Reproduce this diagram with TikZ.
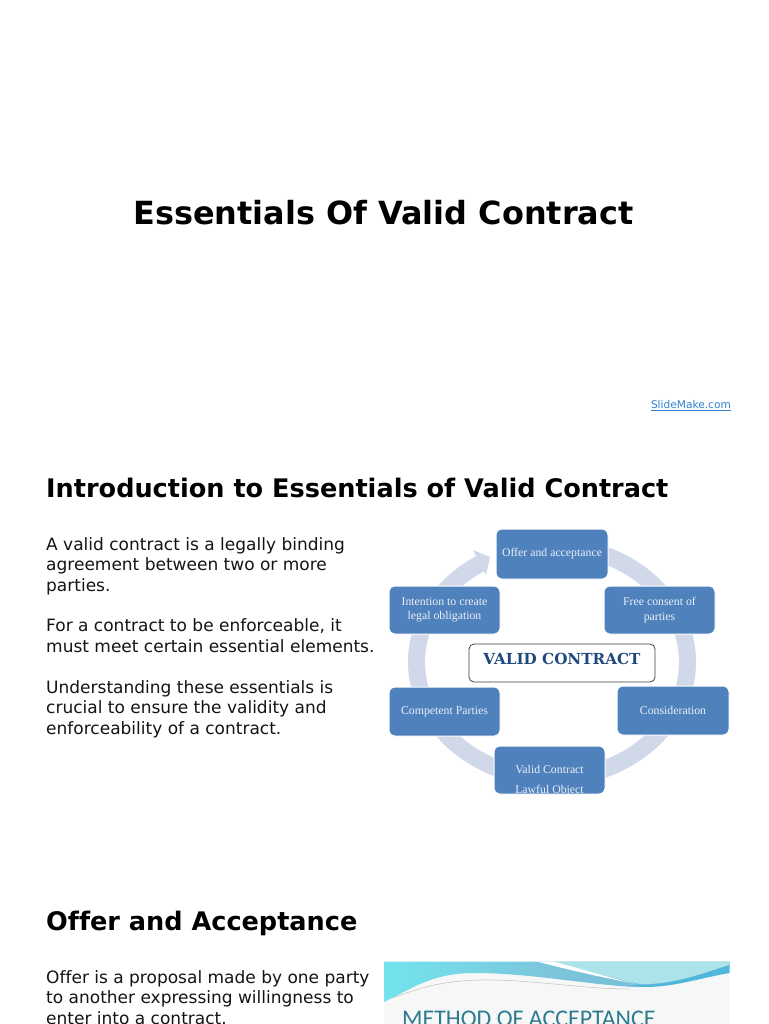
\documentclass[tikz,border=0pt]{standalone}
\usepackage{fontspec}
\setmainfont[Ligatures=CommonOff]{DejaVu Sans}
\newfontfamily\boxfont{Liberation Serif}
\newfontfamily\centerfont{DejaVu Serif}
\newfontfamily\imgfont{Carlito}
\usetikzlibrary{calc}
\definecolor{ringc}{HTML}{D0D8E9}
\definecolor{boxc}{HTML}{4F81BD}
\definecolor{linkc}{HTML}{2F7FD0}
\definecolor{navyc}{HTML}{1F497D}
\definecolor{wavea}{HTML}{72E4EE}
\definecolor{waveb}{HTML}{7CC4DC}
\definecolor{wavec}{HTML}{6FBAD6}
\definecolor{waved}{HTML}{ACE2E9}
\definecolor{wavee}{HTML}{4FB6DC}
\definecolor{imgbg}{HTML}{F6F8F8}
\definecolor{imgtext}{HTML}{2E7A8E}
\tikzset{
  x=1pt,y=-1pt,
  body/.style={anchor=base west,align=left,inner sep=0pt,font=\fontsize{17}{20.5}\selectfont,text=black!92},
  heading/.style={anchor=base west,inner sep=0pt,font=\fontsize{25.55}{30}\selectfont\bfseries,text=black},
  stage/.style={draw=white,line width=1pt,fill=boxc,rounded corners=6pt,text=white!88!boxc,align=center,
    font=\boxfont\fontsize{11.8}{14.2}\selectfont,inner sep=0pt},
  ring/.style={draw=ringc,line width=17pt}
}
\newcommand{\stagebox}[6]{\node[stage,minimum width=#3pt-#1pt,minimum height=#4pt-#2pt] (#5) at ({(#1+#3)/2},{(#2+#4)/2}) {#6};}
\begin{document}
\begin{tikzpicture}
\useasboundingbox (0,0) rectangle (768,1024);
\fill[white] (0,0) rectangle (768,1024);
% Title
\node[anchor=base,inner sep=0pt,font=\fontsize{31.9}{36}\selectfont\bfseries] (title) at (383.5,224.5) {Essentials Of Valid Contract};
\node[anchor=base east,inner sep=0pt,font=\fontsize{10.6}{13}\selectfont,text=linkc] (link) at (731,408) {SlideMake.com};
\draw[linkc,line width=0.6pt] (651,410) -- (731,410);
% Section 1
\node[heading] (h1) at (46,497) {Introduction to Essentials of Valid Contract};
\node[body] (p1) at (46,591) {A valid contract is a legally binding\\agreement between two or more\\parties.};
\node[body] (p2) at (46,652) {For a contract to be enforceable, it\\must meet certain essential elements.};
\node[body] (p3) at (46,734) {Understanding these essentials is\\crucial to ensure the validity and\\enforceability of a contract.};
% Ring
\draw[ring] (552,546) arc[start angle=90,end angle=-238,x radius=135.5,y radius=-116];
\fill[ringc] (473,550) -- (490,557) -- (486,575) -- cycle;
% Boxes
\stagebox{496}{529}{608}{579}{offer}{\raisebox{-1pt}{Offer and acceptance}}
\stagebox{604}{586}{715}{634}{free}{\raisebox{-1pt}{Free consent of}\\\raisebox{-1pt}{parties}}
\stagebox{389}{586}{500}{634}{intent}{\raisebox{-1pt}{Intention to create}\\\raisebox{-1pt}{legal obligation}}
\stagebox{389}{687}{500}{736}{comp}{\raisebox{-1.5pt}{Competent Parties}}
\stagebox{617}{686}{729}{735}{cons}{Consideration}
\node[stage,minimum width=111pt,minimum height=48pt,font=\boxfont\fontsize{11.8}{20}\selectfont] (lawful) at (549.5,770) {\raisebox{-13pt}[0pt][0pt]{Valid Contract}\\\raisebox{-13pt}[0pt][0pt]{Lawful Object}};
\node[draw=black!75,line width=0.8pt,fill=white,rounded corners=5pt,minimum width=186pt,minimum height=38pt,inner sep=0pt,
  text=navyc,font=\centerfont\fontsize{15.2}{16}\selectfont\bfseries] (vc) at (562,663) {\raisebox{-1pt}[0pt][0pt]{VALID CONTRACT}};
% Section 2
\node[heading] (h2) at (46,930) {Offer and Acceptance};
\node[body] (p4) at (46,1024) {Offer is a proposal made by one party\\to another expressing willingness to\\enter into a contract.};
% Picture
\begin{scope}
\clip (384,961.5) rectangle (729.5,1024);
\fill[imgbg] (384,961.5) rectangle (729.5,1024);
\shade[left color=wavea,right color=wavec,middle color=waveb]
  (384,1002) .. controls (410,990) and (430,973) .. (475,973)
  .. controls (530,973) and (590,985) .. (635,987)
  .. controls (670,988) and (700,975) .. (729.5,965)
  -- (729.5,961.5) -- (384,961.5) -- cycle;
\fill[waved] (553,961.5) .. controls (590,971) and (610,978) .. (640,984)
  .. controls (675,985) and (705,972) .. (729.5,965) -- (729.5,961.5) -- cycle;
\fill[white] (537,961.5) -- (553,961.5) .. controls (590,971) and (610,978) .. (634,983.5)
  .. controls (600,977) and (565,969) .. (537,961.5) -- cycle;
\fill[wavee] (729.5,965) -- (729.5,973) .. controls (700,978) and (675,987) .. (645,987)
  -- (630,985) .. controls (670,986) and (700,975) .. (729.5,965) -- cycle;
\draw[gray!50,line width=0.5pt] (392,998) .. controls (420,988) and (440,981) .. (480,980) .. controls (530,979) and (580,989) .. (630,989);
\node[anchor=base west,inner sep=0pt,font=\imgfont\fontsize{23.9}{26}\selectfont,text=imgtext] (imgt) at (402,1026) {METHOD OF ACCEPTANCE};
\end{scope}
\end{tikzpicture}
\end{document}
